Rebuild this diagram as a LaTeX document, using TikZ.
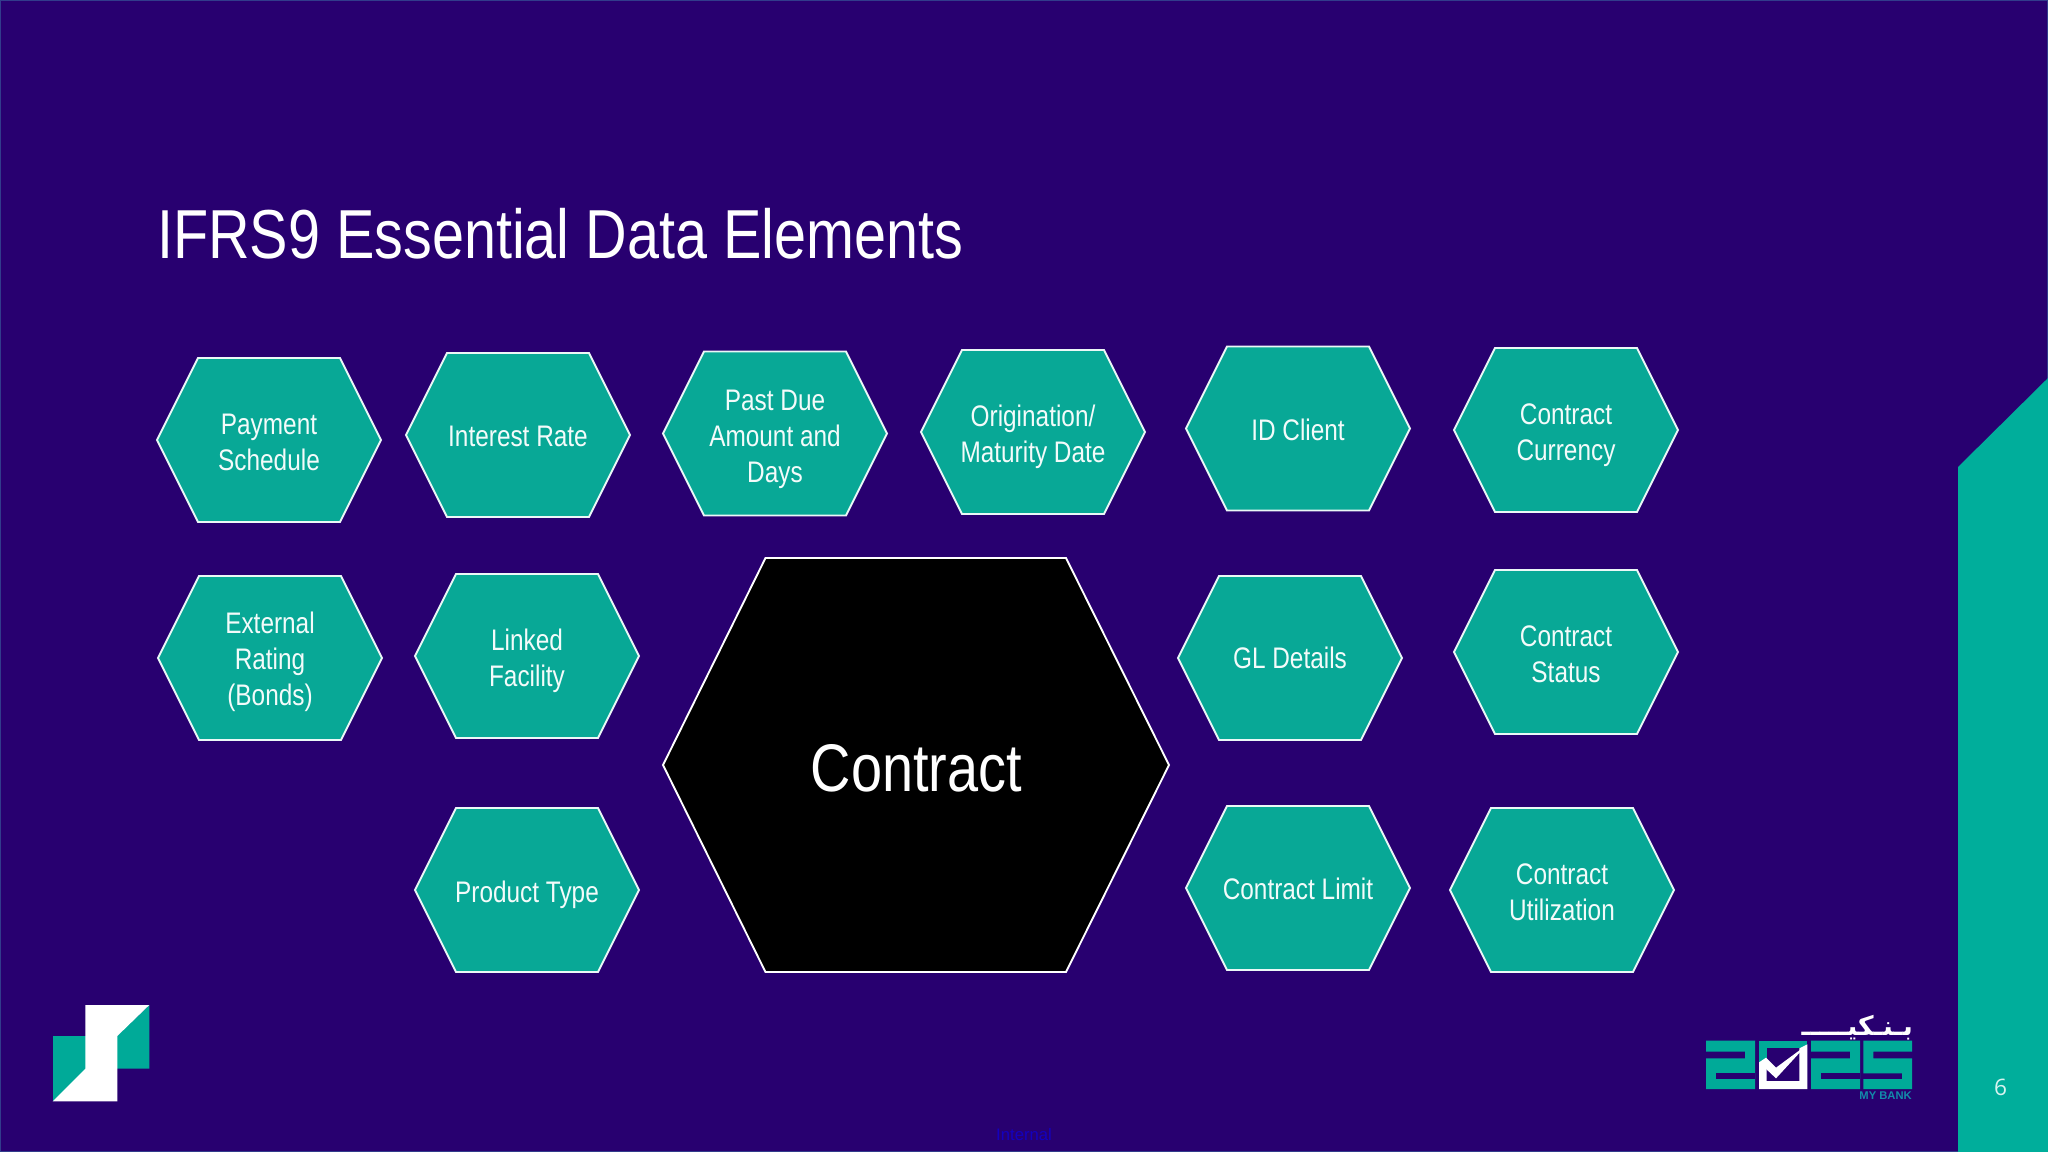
\documentclass[tikz,border=0pt]{standalone}
\usepackage{fontspec}
\setmainfont[FakeStretch=0.82]{Liberation Sans}
\newfontfamily\titlefont[FakeStretch=0.83]{Liberation Sans}
\newfontfamily\numfont{Open Sans}
\newfontfamily\logofont{Liberation Sans}
\newfontfamily\arabicfont[Script=Arabic]{DejaVu Sans}
\TeXXeTstate=1
\definecolor{bgblue}{RGB}{40,0,112}
\definecolor{edgeblue}{RGB}{50,60,140}
\definecolor{bandteal}{RGB}{0,174,155}
\definecolor{hexteal}{RGB}{8,168,150}
\definecolor{logoteal}{RGB}{0,170,152}
\definecolor{mybank}{RGB}{18,140,170}
\definecolor{internalblue}{RGB}{20,0,190}
\tikzset{
  x=0.75pt,y=-0.75pt,
  hexline/.style={draw=white!92!hexteal,line width=1.4pt,fill=hexteal,line join=miter},
  bigline/.style={draw=white,line width=1.4pt,fill=black,line join=miter},
  hextext/.style={text=white!95!hexteal,align=center,font=\fontsize{22.3}{27}\selectfont,inner sep=0pt},
}
% name, centre x, centre y, text offset, text
\newcommand{\hexa}[5]{%
  \path[hexline] (#2-112,#3) -- (#2-71,#3-82) -- (#2+71,#3-82) -- (#2+112,#3) -- (#2+71,#3+82) -- (#2-71,#3+82) -- cycle;
  \node[hextext] (#1) at (#2,#3+#4) {#5};}
\begin{document}
\begin{tikzpicture}
\useasboundingbox (0,0) rectangle (2048,1152);
\fill[bgblue] (0,0) rectangle (2048,1152);
\draw[edgeblue,line width=1pt] (0,0) rectangle (2048,1152);
% right band
\fill[bandteal] (1958,467) -- (2048,378) -- (2048,1152) -- (1958,1152) -- cycle;
\node[text=white!85!bandteal,font=\numfont\fontsize{17}{18}\selectfont,inner sep=0pt] (pageno) at (2000.5,1087) {6};
% title
\node[anchor=west,text=white,font=\titlefont\fontsize{52}{60}\selectfont,inner sep=0pt] (title) at (157,234) {IFRS9 Essential Data Elements};
% hexagons
\hexa{payment}{269}{440}{2}{Payment\\Schedule}
\hexa{interest}{518}{435}{1}{Interest Rate}
\hexa{pastdue}{775}{433.5}{5.5}{Past Due\\Amount and\\Days}
\hexa{origin}{1033}{432}{5}{Origination/\\Maturity Date}
\hexa{idclient}{1298}{428.5}{1}{ID Client}
\hexa{currency}{1566}{430}{5}{Contract\\Currency}
\hexa{external}{270}{658}{4}{External\\Rating\\(Bonds)}
\hexa{linked}{527}{656}{5}{Linked\\Facility}
\hexa{product}{527}{890}{5}{Product Type}
\hexa{gl}{1290}{658}{0}{GL Details}
\hexa{status}{1566}{652}{2}{Contract\\Status}
\hexa{limit}{1298}{888}{1}{Contract Limit}
\hexa{util}{1562}{890}{2}{Contract\\Utilization}
% centre
\path[bigline] (663,765) -- (765.5,558) -- (1066,558) -- (1169,765) -- (1066,972) -- (765.5,972) -- cycle;
\node[text=white,font=\titlefont\fontsize{50.5}{56}\selectfont,inner sep=0pt] (contract) at (916.5,768) {Contract};
% left logo
\fill[logoteal] (52.7,1036) rectangle (86,1101);
\fill[logoteal] (117,1036) -- (149.3,1005) -- (149.3,1068.7) -- (117,1068.7) -- cycle;
\fill[white] (85.3,1005) -- (149.3,1005) -- (117.3,1036) -- (117.3,1101.3) -- (52.7,1101.3) -- (85.3,1068.7) -- cycle;
% right logo
\begin{scope}[shift={(1700,1005)},x=0.25pt,y=-0.25pt]
  % digit 2
  \fill[logoteal] (18,107) -- (165,107) -- (165,252) -- (18,252) -- (18,160) -- (135,160) -- (135,140) -- (18,140) -- cycle;
  \fill[bgblue] (48,205) rectangle (165,222);
  % zero with check box
  \fill[logoteal] (177,107) rectangle (322,130);
  \fill[logoteal] (177,107) rectangle (200,175);
  \fill[white] (177,172) -- (200,172) -- (200,228) -- (298,228) -- (298,130) -- (322,118) -- (322,252) -- (177,252) -- cycle;
  \fill[white] (177,172) -- (198,158) -- (228,188) -- (320,120) -- (228,220) -- cycle;
  % digit 2
  \fill[logoteal] (333,107) -- (480,107) -- (480,252) -- (333,252) -- (333,160) -- (450,160) -- (450,140) -- (333,140) -- cycle;
  \fill[bgblue] (363,205) rectangle (480,222);
  % digit 5
  \fill[logoteal] (490,107) -- (636,107) -- (636,140) -- (520,140) -- (520,160) -- (636,160) -- (636,252) -- (490,252) -- (490,222) -- (606,222) -- (606,205) -- (490,205) -- cycle;
\end{scope}
\node[anchor=east,text=white,font=\arabicfont\bfseries\fontsize{20}{22}\selectfont,inner sep=0pt] (arabic) at (1913,1028) {\beginR بـنـكيـــــ\endR};
\node[anchor=east,text=mybank,font=\logofont\bfseries\fontsize{8.4}{10}\selectfont,inner sep=0pt] (mybank) at (1912,1096) {MY BANK};
% internal label
\node[text=internalblue,font=\logofont\fontsize{12.5}{14}\selectfont,inner sep=0pt] (internal) at (1024,1135) {Internal};
\end{tikzpicture}
\end{document}
